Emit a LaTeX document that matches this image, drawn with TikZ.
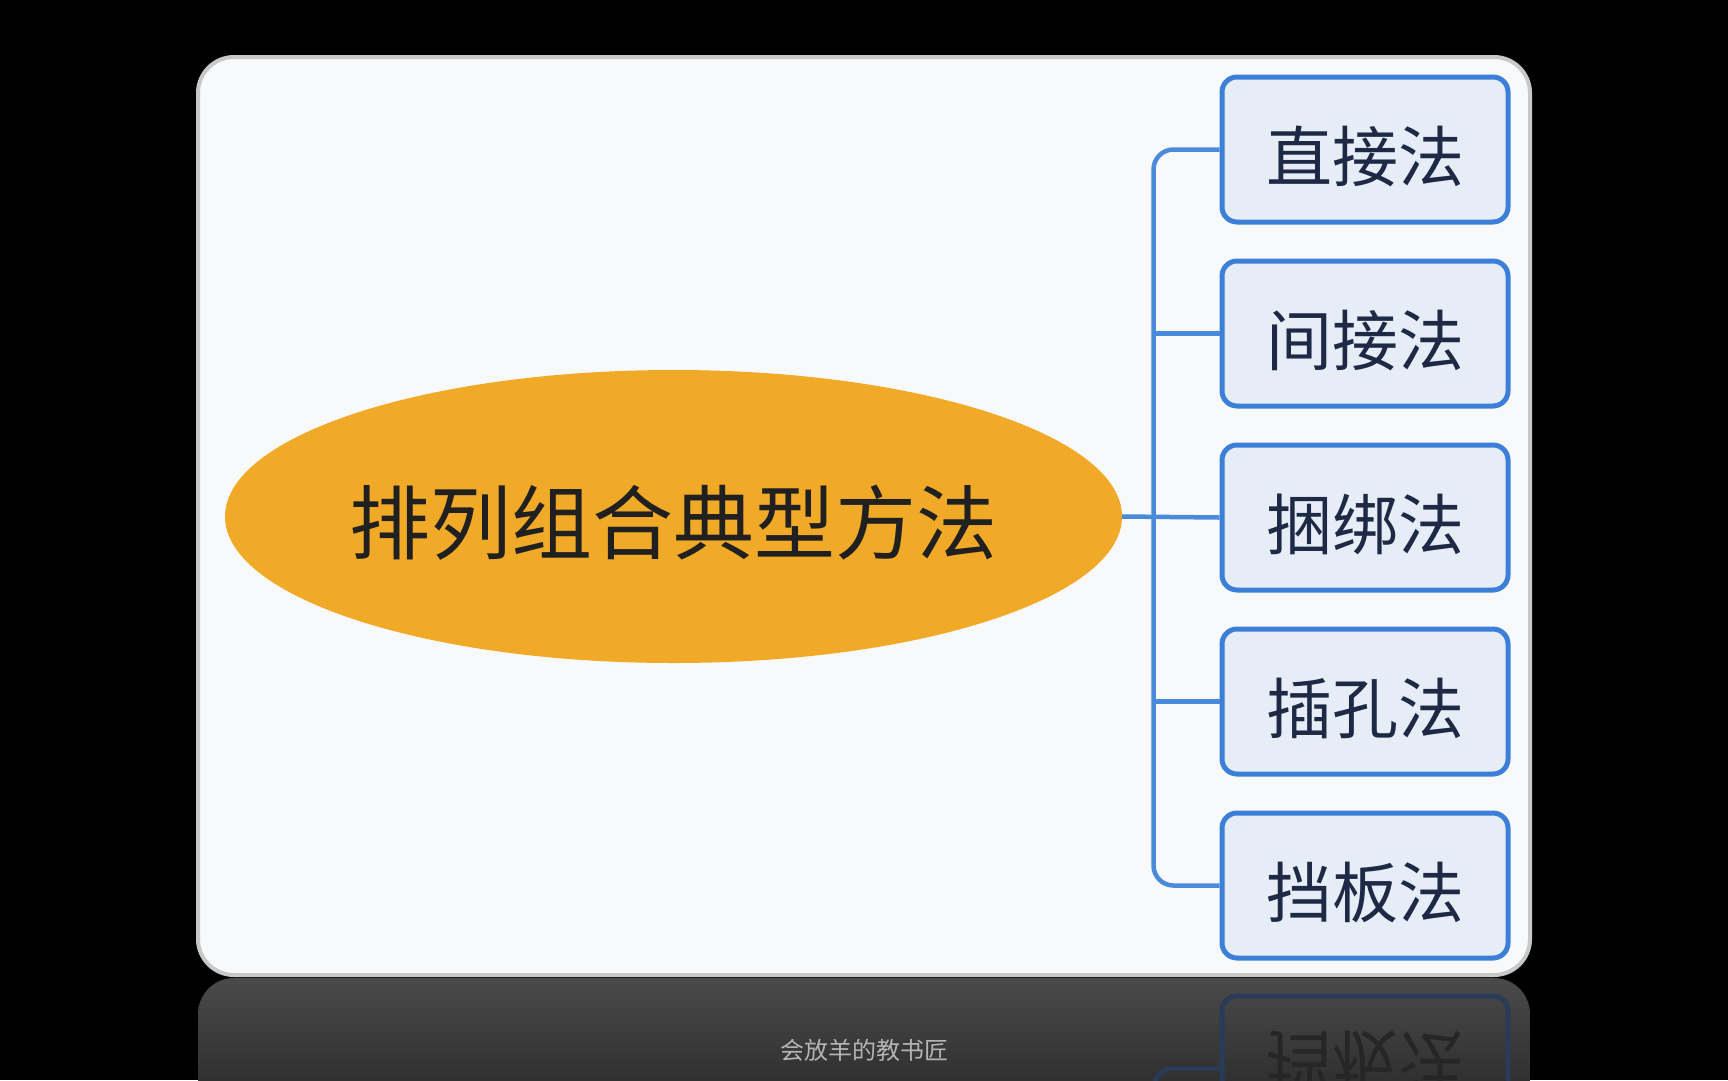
\documentclass[tikz,border=0pt]{standalone}
\usepackage{fontspec}
\newfontfamily\cjk{Noto Sans CJK SC}
\usepackage{tikz}
\usetikzlibrary{positioning,shapes.geometric}

\definecolor{cardfill}{HTML}{F8F9FB}
\definecolor{cardedge}{HTML}{C8C8C8}
\definecolor{topicorange}{HTML}{F1A928}
\definecolor{topictext}{HTML}{202020}
\definecolor{boxblue}{HTML}{3C7FD8}
\definecolor{boxfill}{HTML}{E6EDF6}
\definecolor{linkblue}{HTML}{4A8ADB}
\definecolor{textnavy}{HTML}{1E2A45}
\definecolor{reflgray}{HTML}{4A4A4A}
\definecolor{reflblue}{HTML}{2A3B58}
\definecolor{markgray}{HTML}{B4B4B4}

\begin{document}
\begin{tikzpicture}[x=1pt, y=-1pt,
		method/.style={draw=boxblue, line width=5pt, fill=boxfill, rounded corners=15pt, minimum width=286pt, minimum height=145pt, inner sep=0pt, text=textnavy, text height=64pt, text depth=0pt, font=\cjk\fontsize{66}{66}\selectfont},
		link/.style={draw=linkblue, line width=4.5pt, rounded corners=20pt}]
				\useasboundingbox (0,0) rectangle (1728,1080);
				\fill[black] (0,0) rectangle (1728,1080);
				% card and its reflection
				\draw[draw=cardedge, line width=4pt, fill=cardfill, rounded corners=36pt] (198,57) rectangle (1530,975);
				\begin{scope}
					\clip[rounded corners=36pt] (198,978) rectangle (1530,1200);
					\shade[top color=reflgray, bottom color=reflgray!65!black] (198,978) rectangle (1530,1080);
					\node[draw=reflblue, line width=5pt, rounded corners=15pt, minimum width=286pt, minimum height=145pt, inner sep=0pt, text=black!85, text height=64pt, text depth=0pt, font=\cjk\fontsize{66}{66}\selectfont, yscale=-1, transform shape] (M5r) at (1365,1068.5) {挡板法};
					\draw[draw=reflblue, line width=4.5pt, rounded corners=20pt] (M5r.west) -- ++(-66,0) -- ++(0,60);
				\end{scope}
				% topic and methods
				\node[ellipse, fill=topicorange, minimum width=897pt, minimum height=293pt, inner xsep=-9pt, inner ysep=0pt, text=topictext, text height=73pt, text depth=0pt, font=\cjk\fontsize{81}{81}\selectfont] (T) at (673.5,516.5) {排列组合典型方法};
				\node[method] (M1) at (1365,149.5) {直接法};
				\node[method] (M2) at (1365,333.5) {间接法};
				\node[method] (M3) at (1365,517.5) {捆绑法};
				\node[method] (M4) at (1365,701.5) {插孔法};
				\node[method] (M5) at (1365,885.5) {挡板法};
				\draw[link] (M1.west) -- ++(-66,0) |- (M5.west);
				\draw[link] (M2.west) -- ++(-66,0);
				\draw[link] (M4.west) -- ++(-66,0);
				\draw[link] (T.east) -- (M3.west);
				\node[text=markgray, font=\cjk\fontsize{24}{24}\selectfont] (mark) at (864,1050) {会放羊的教书匠};
			\end{tikzpicture}
\end{document}
